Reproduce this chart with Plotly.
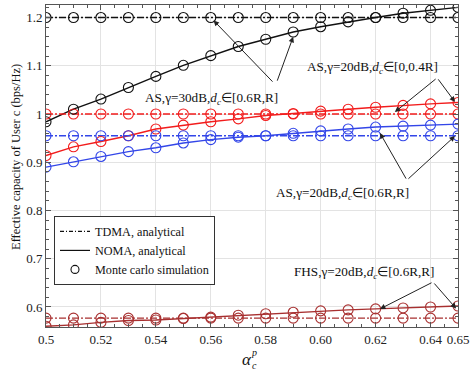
import plotly.graph_objects as go

x = [0.50, 0.51, 0.52, 0.53, 0.54, 0.55, 0.56, 0.57, 0.58, 0.59, 0.60, 0.61, 0.62, 0.63, 0.64, 0.65]

as30_tdma = [1.200] * 16
as30_noma = [0.984, 1.010, 1.031, 1.055, 1.078, 1.101, 1.121, 1.140, 1.155, 1.170, 1.181, 1.191, 1.200, 1.209, 1.215, 1.221]
as20near_tdma = [1.000] * 16
as20near_noma = [0.914, 0.932, 0.943, 0.955, 0.969, 0.977, 0.984, 0.990, 0.997, 1.001, 1.006, 1.010, 1.014, 1.018, 1.021, 1.024]
as20far_tdma = [0.955] * 16
as20far_noma = [0.890, 0.901, 0.912, 0.922, 0.930, 0.940, 0.947, 0.952, 0.955, 0.960, 0.965, 0.969, 0.973, 0.975, 0.977, 0.979]
fhs_tdma = [0.577] * 16
fhs_noma = [0.560, 0.563, 0.568, 0.572, 0.573, 0.576, 0.579, 0.583, 0.586, 0.589, 0.592, 0.594, 0.596, 0.598, 0.600, 0.602]

x_tickvals = [0.50, 0.52, 0.54, 0.56, 0.58, 0.60, 0.62, 0.64, 0.65]
x_ticktext = ["0.5", "0.52", "0.54", "0.56", "0.58", "0.60", "0.62", "0.64", "0.65"]
y_tickvals = [0.6, 0.7, 0.8, 0.9, 1.0, 1.1, 1.2]
y_ticktext = ["0.6", "0.7", "0.8", "0.9", "1", "1.1", "1.2"]

BLACK = "#111111"
RED = "#f21c1c"
BLUE = "#3346e8"
DRED = "#a83030"
DASHDOT = "7px,2px,2px,2px"
FONT = "Liberation Serif"

fig = go.Figure()

series = [
    (as30_tdma, BLACK, True), (as30_noma, BLACK, False),
    (as20near_tdma, RED, True), (as20near_noma, RED, False),
    (as20far_tdma, BLUE, True), (as20far_noma, BLUE, False),
    (fhs_tdma, DRED, True), (fhs_noma, DRED, False),
]
for ys, col, tdma in series:
    fig.add_trace(go.Scatter(
        x=x, y=ys, mode="lines",
        line=dict(color=col, width=1.4, dash=DASHDOT if tdma else "solid"),
        showlegend=False, hoverinfo="skip"))
for ys, col, tdma in series:
    fig.add_trace(go.Scatter(
        x=x, y=ys, mode="markers",
        marker=dict(symbol="circle-open", size=10, color=col, line=dict(width=1.1, color=col)),
        showlegend=False))

# legend entries
fig.add_trace(go.Scatter(x=[None], y=[None], mode="lines", name="TDMA, analytical",
                         line=dict(color=BLACK, width=1.1, dash="4px,2px,1px,2px")))
fig.add_trace(go.Scatter(x=[None], y=[None], mode="lines", name="NOMA, analytical",
                         line=dict(color=BLACK, width=1.2)))
fig.add_trace(go.Scatter(x=[None], y=[None], mode="markers", name="Monte carlo simulation",
                         marker=dict(symbol="circle-open", size=8, color=BLACK, line=dict(width=1.1))))

def lbl(prefix, rng):
    return prefix + ",γ=" + rng[0] + ",<i>d</i><sub><i>c</i></sub>∈" + rng[1]

texts = [
    (lbl("AS", ("30dB", "[0.6R,R]")), 0.5604, 1.033,
     [((0.583, 1.064), (0.561, 1.194)), ((0.584, 1.066), (0.590, 1.160))]),
    (lbl("AS", ("20dB", "[0,0.4R]")), 0.619, 1.097,
     [((0.6424, 1.075), (0.627, 1.004)), ((0.6424, 1.075), (0.6489, 1.025))]),
    (lbl("AS", ("20dB", "[0.6R,R]")), 0.6078, 0.836,
     [((0.6314, 0.863), (0.6216, 0.9606)), ((0.6314, 0.863), (0.6489, 0.9544))]),
    (lbl("FHS", ("20dB", "[0.6R,R]")), 0.6161, 0.6705,
     [((0.6409, 0.6518), (0.6216, 0.5959)), ((0.6409, 0.6518), (0.6493, 0.5969))]),
]
for t, tx, ty, arrows in texts:
    fig.add_annotation(x=tx, y=ty, xref="x", yref="y", text=t, showarrow=False,
                       font=dict(family=FONT, size=13.2, color="#111"))
    for (tail, head) in arrows:
        fig.add_annotation(x=head[0], y=head[1], ax=tail[0], ay=tail[1],
                           xref="x", yref="y", axref="x", ayref="y", text="",
                           showarrow=True, arrowhead=2, arrowsize=1.1, arrowwidth=1,
                           arrowcolor="#222")

# x-axis title alpha_c^p (placed in pixels relative to the plot's bottom-centre)
fig.add_annotation(x=0.5, y=0, xref="paper", yref="paper", xanchor="center", yanchor="middle",
                   xshift=-5, yshift=-32, text="<i>α</i>",
                   showarrow=False, font=dict(family=FONT, size=17, color="#111"))
fig.add_annotation(x=0.5, y=0, xref="paper", yref="paper", xanchor="center", yanchor="middle",
                   xshift=2, yshift=-25, text="<i>p</i>",
                   showarrow=False, font=dict(family=FONT, size=10, color="#111"))
fig.add_annotation(x=0.5, y=0, xref="paper", yref="paper", xanchor="center", yanchor="middle",
                   xshift=2, yshift=-38, text="<i>c</i>",
                   showarrow=False, font=dict(family=FONT, size=10, color="#111"))

# y-axis title
fig.add_annotation(x=0, y=0.5, xref="paper", yref="paper", xanchor="center", yanchor="middle",
                   xshift=-30, yshift=9, textangle=-90,
                   text="Effective capacity of User c (bps/Hz)",
                   showarrow=False, font=dict(family=FONT, size=12.5, color="#111"))

axis_common = dict(showline=True, linecolor="#555", linewidth=1, mirror="ticks",
                   ticks="inside", ticklen=5, tickcolor="#555",
                   showgrid=True, gridcolor="#e3e3e3", gridwidth=1, zeroline=False,
                   tickfont=dict(family=FONT, size=13, color="#222"))

fig.update_xaxes(range=[0.5, 0.65], tickmode="array", tickvals=x_tickvals, ticktext=x_ticktext,
                 minor=dict(ticks="inside", ticklen=3, dtick=0.005, tickcolor="#555", showgrid=False),
                 **axis_common)
fig.update_yaxes(range=[0.5585, 1.226], tickmode="array", tickvals=y_tickvals, ticktext=y_ticktext,
                 minor=dict(ticks="inside", ticklen=3, dtick=0.02, tickcolor="#555", showgrid=False),
                 **axis_common)

fig.update_layout(
    width=474, height=379,
    margin=dict(l=46, r=16, t=5, b=52, autoexpand=False),
    plot_bgcolor="white", paper_bgcolor="white",
    font=dict(family=FONT, size=13, color="#111"),
    legend=dict(x=0.0194, y=0.345, xanchor="left", yanchor="top",
                bgcolor="white", bordercolor="#333", borderwidth=1,
                font=dict(family=FONT, size=12.2, color="#111"),
                tracegroupgap=0, itemwidth=30),
)

fig.write_html("out.html", config={"displayModeBar": False},
               post_script="document.body.style.margin='0';document.body.style.overflow='hidden';")
